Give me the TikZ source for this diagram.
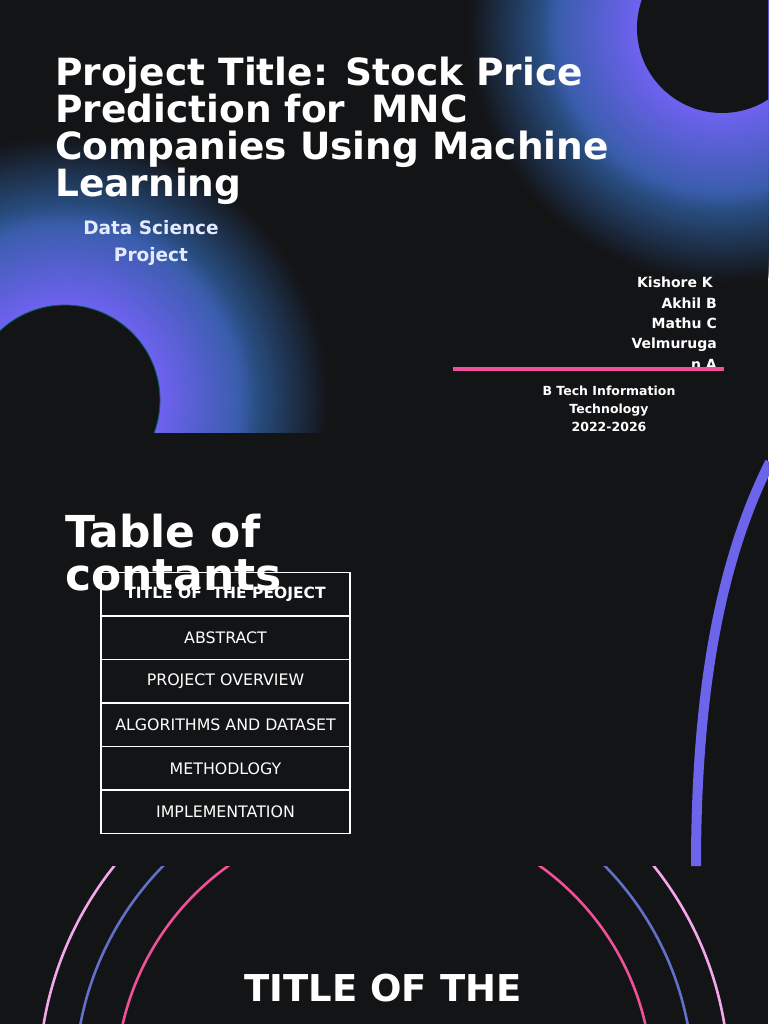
\documentclass[tikz,border=0pt]{standalone}
\usepackage{fontspec}
\setmainfont{DejaVu Sans}
\definecolor{bg}{HTML}{131416}
\definecolor{vio}{HTML}{6E62F0}
\definecolor{blu}{HTML}{2E5C9C}
\definecolor{hpink}{HTML}{F0509A}
\definecolor{lpink}{HTML}{F4A8EC}
\definecolor{ablue}{HTML}{6270C8}
\definecolor{subtxt}{HTML}{E4EAFF}
\newcommand{\glowring}[4]{% center x, y, inner r, outer r
  \foreach \r in {#4,...,#3}{%
    \pgfmathsetmacro{\t}{(\r-#3)/(#4-#3)}%
    \pgfmathsetmacro{\a}{max(0,min(100,100-170*\t))}%
    \pgfmathsetmacro{\b}{max(0,min(100,100*(1-\t)*1.9))}%
    \colorlet{tmpc}{vio!\a!blu}%
    \fill[tmpc!\b!bg] (#1,#2) circle[radius=\r];
  }%
  \fill[bg] (#1,#2) circle[radius=#3];
}
\tikzset{
  ttl/.style={text=white,font=\bfseries\fontsize{37.5}{37}\selectfont,align=left,anchor=north west,inner sep=0},
  row/.style={draw=white,line width=1.2pt,minimum width=249pt,minimum height=43.5pt,outer sep=0,text=white,font=\fontsize{15.8}{18}\selectfont,inner sep=0},
  arcl/.style={line width=2.6pt}
}
\begin{document}
\begin{tikzpicture}[x=1pt,y=-1pt]
\fill[bg] (0,0) rectangle (768,1024);
\useasboundingbox (0,0) rectangle (768,1024);
% slide 1
\begin{scope}
\clip (0,0) rectangle (768,432);
\glowring{722}{28}{85}{255}
\glowring{65}{400}{95}{265}
\draw[teal!70!bg,line width=0.8pt] (65,400) circle[radius=95];
\node[ttl] (title) at (55,57) {Project Title: Stock Price\\Prediction for\ \ MNC\\Companies Using Machine\\Learning};
\node[text=subtxt,font=\bfseries\fontsize{18.5}{27}\selectfont,align=center] (sub) at (151,243) {Data Science\\Project};
\node[text=white,font=\bfseries\fontsize{14}{20.3}\selectfont,align=right,anchor=north east,inner sep=0] (names) at (717,277) {Kishore K\hspace*{4pt}\\Akhil B\hspace*{4pt}\\Mathu C\hspace*{4pt}\\Velmuruga\\n A};
\draw[hpink,line width=4pt] (453,369) coordinate (l1) -- (724,369) coordinate (l2);
\node[text=white,font=\bfseries\fontsize{12.5}{18}\selectfont,align=center,anchor=north,inner sep=0] (dept) at (609,386) {B Tech Information\\Technology\\2022-2026};
\end{scope}
% slide 2
\draw[vio!85!ablue,line width=10pt] (770,462) coordinate (a1) .. controls (718,565) and (696,700) .. (696,866) coordinate (a2);
\node[ttl,font=\bfseries\fontsize{44}{43}\selectfont] (toc) at (65,514) {Table of\\contants};
\node[row,anchor=north west,font=\bfseries\fontsize{15.5}{18}\selectfont] (r1) at (101,572.5) {TITLE OF\ \ THE PEOJECT};
\node[row,anchor=north] (r2) at (r1.south) {ABSTRACT};
\node[row,anchor=north] (r3) at (r2.south) {PROJECT OVERVIEW};
\node[row,anchor=north] (r4) at (r3.south) {ALGORITHMS AND DATASET};
\node[row,anchor=north] (r5) at (r4.south) {METHODLOGY};
\node[row,anchor=north] (r6) at (r5.south) {IMPLEMENTATION};
% slide 3
\begin{scope}
\clip (0,866) rectangle (768,1024);
\draw[arcl,hpink] (384,1084) circle[radius=268];
\draw[arcl,ablue] (384,1082) circle[radius=309];
\draw[arcl,lpink] (384,1081) circle[radius=345];
\end{scope}
\node[text=white,font=\bfseries\fontsize{37}{40}\selectfont] (t3) at (383,988) {TITLE OF THE};
\end{tikzpicture}
\end{document}
